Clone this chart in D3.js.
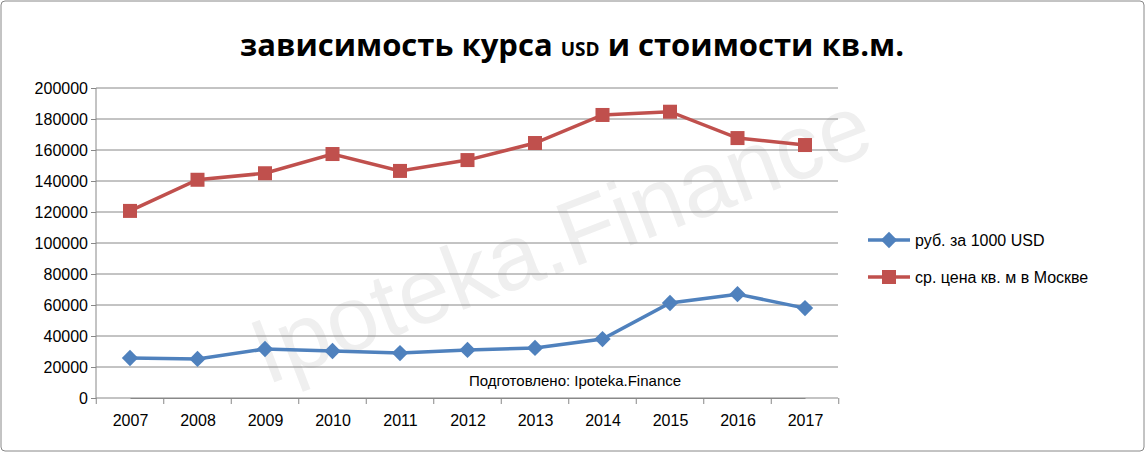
<!DOCTYPE html><html><head><meta charset="utf-8"><script src="https://cdn.jsdelivr.net/npm/d3@7"></script>
<style>body{margin:0;background:#fff}</style></head><body><svg id="c" width="1145" height="452"></svg>
<script>
const years=["2007","2008","2009","2010","2011","2012","2013","2014","2015","2016","2017"];
const usd=[25800,25200,31600,30300,29000,31000,32300,38000,61300,67000,58000];
const price=[120700,140800,145000,157400,146500,153500,164500,182600,184700,167700,163200];
const yTicks=[0,20000,40000,60000,80000,100000,120000,140000,160000,180000,200000];
const seriesNames=["руб. за 1000 USD","ср. цена кв. м в Москве"];
const svg=d3.select("#c");
svg.append("rect").attr("x",1).attr("y",1).attr("width",1143).attr("height",450).attr("rx",4).attr("fill","#fff").attr("stroke","#888");
const x=d3.scalePoint().domain(years).range([130,805]);
const y=d3.scaleLinear().domain([0,200000]).range([398,88]);
svg.append("text").attr("transform","translate(572,268) rotate(-21)").attr("text-anchor","middle").attr("font-family","Liberation Sans").attr("font-size",92).attr("fill","#efefef").text("Ipoteka.Finance");
svg.append("g").selectAll("line").data(yTicks).join("line").attr("x1",96).attr("x2",838).attr("y1",d=>y(d)).attr("y2",d=>y(d)).attr("stroke","#888").attr("stroke-width",1);
const yAxis=svg.append("g").attr("transform","translate(96,0)").call(d3.axisLeft(y).tickValues(yTicks).tickSize(5).tickFormat(d=>d));
const xAxis=svg.append("g").attr("transform","translate(0,398)").call(d3.axisBottom(x).tickSize(0).tickPadding(17));
[yAxis,xAxis].forEach(a=>{a.selectAll("text").attr("font-family","Liberation Sans").attr("font-size",16).attr("fill","#000");a.selectAll("line,path").attr("stroke","#888");});
yAxis.select(".domain").remove();
svg.append("line").attr("x1",96).attr("x2",96).attr("y1",88).attr("y2",398).attr("stroke","#888");
const step=x.step();
svg.append("g").selectAll("line").data(d3.range(years.length+1)).join("line").attr("x1",d=>130-step/2+d*step).attr("x2",d=>130-step/2+d*step).attr("y1",398).attr("y2",404).attr("stroke","#888");
const line=d3.line().x((d,i)=>x(years[i])).y(d=>y(d));
svg.append("path").datum(price).attr("d",line).attr("fill","none").attr("stroke","#C0504D").attr("stroke-width",3.5);
svg.append("path").datum(usd).attr("d",line).attr("fill","none").attr("stroke","#4F81BD").attr("stroke-width",3.5);
svg.append("g").selectAll("rect").data(price).join("rect").attr("x",(d,i)=>x(years[i])-7).attr("y",d=>y(d)-7).attr("width",14).attr("height",14).attr("fill","#C0504D");
const dia=d3.symbol().type(d3.symbolDiamond2).size(170);
svg.append("g").selectAll("path").data(usd).join("path").attr("d",dia).attr("transform",(d,i)=>`translate(${x(years[i])},${y(d)})`).attr("fill","#4F81BD");
svg.append("text").attr("x",575).attr("y",386).attr("text-anchor","middle").attr("font-family","Liberation Sans").attr("font-size",15).text("Подготовлено: Ipoteka.Finance");
const lg=svg.append("g");
lg.append("line").attr("x1",868).attr("x2",910).attr("y1",240).attr("y2",240).attr("stroke","#4F81BD").attr("stroke-width",3.5);
lg.append("path").attr("d",dia).attr("transform","translate(889,240)").attr("fill","#4F81BD");
lg.append("line").attr("x1",868).attr("x2",910).attr("y1",277).attr("y2",277).attr("stroke","#C0504D").attr("stroke-width",3.5);
lg.append("rect").attr("x",882).attr("y",270).attr("width",14).attr("height",14).attr("fill","#C0504D");
lg.selectAll("text").data(seriesNames).join("text").attr("x",915).attr("y",(d,i)=>246+i*37).attr("font-family","Liberation Sans").attr("font-size",16).text(d=>d);
const t=svg.append("text").attr("x",572).attr("y",56).attr("text-anchor","middle").attr("font-family","Open Sans").attr("font-weight","bold").attr("font-size",31);
t.append("tspan").text("зависимость курса ");
t.append("tspan").attr("font-size",19).text("USD");
t.append("tspan").text(" и стоимости кв.м.");
</script></body></html>
